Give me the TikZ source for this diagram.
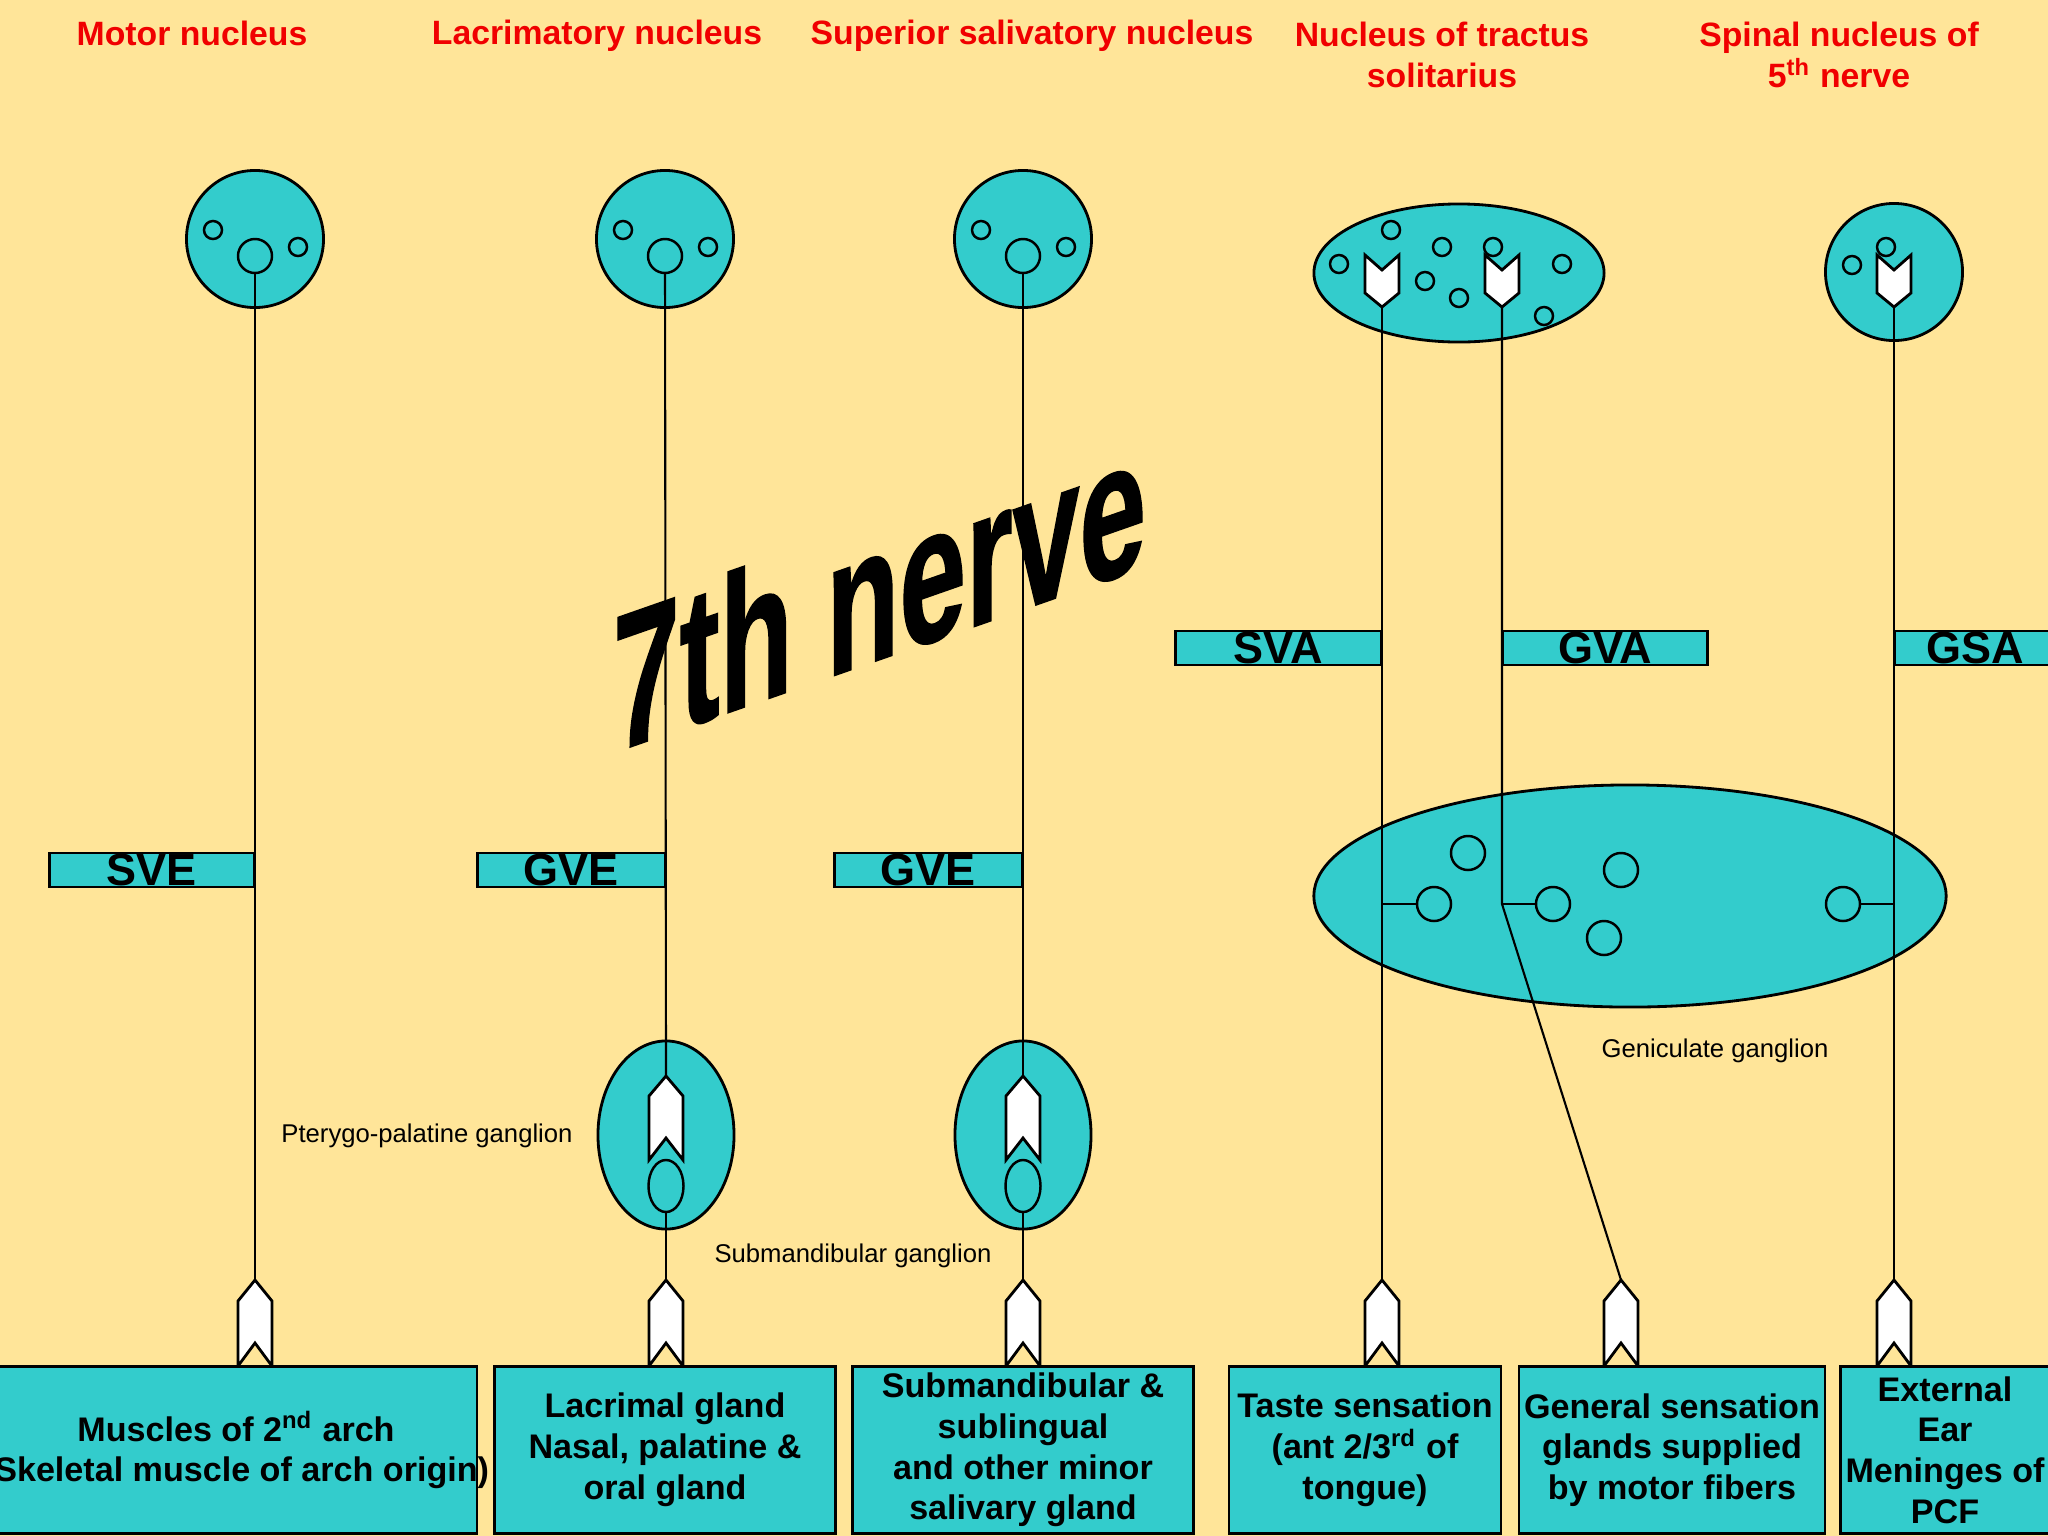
\documentclass[tikz,border=0pt]{standalone}
\usepackage{fontspec}
\setmainfont{Liberation Sans}
\newfontfamily\titlefont[FakeBold=1.2]{Liberation Sans Bold}
\usetikzlibrary{shapes.geometric}
\definecolor{slidebg}{RGB}{255,229,153}
\definecolor{nerveteal}{RGB}{51,204,204}
\definecolor{labelred}{RGB}{240,0,0}

\begin{document}
\begin{tikzpicture}[x=0.01cm, y=-0.01cm, line width=0.6pt,
  nucleus/.style={circle, draw, fill=nerveteal, line width=0.8pt, inner sep=0pt, minimum size=1.37cm},
  cell/.style={circle, draw, inner sep=0pt, minimum size=0.18cm, line width=0.7pt},
  oval/.style={ellipse, draw, fill=nerveteal, line width=0.8pt, inner sep=0pt},
  fibre/.style={draw, fill=white, line width=0.8pt, line join=miter},
  bar/.style={draw, fill=nerveteal, inner sep=0pt, minimum height=0.34cm, line width=0.7pt,
    font=\fontsize{12.8}{14}\selectfont\bfseries},
  target/.style={draw, fill=nerveteal, inner sep=0pt, align=center, minimum height=1.67cm,
    line width=0.7pt, font=\fontsize{9.7}{11.6}\selectfont\bfseries},
  heading/.style={text=labelred, align=center, inner sep=0pt, font=\fontsize{9.6}{11.9}\selectfont\bfseries},
  gname/.style={inner sep=0pt, font=\fontsize{7.3}{9}\selectfont},
  title7/.style={anchor=base west, yslant=0.35, inner sep=0pt, font=\fontsize{55}{60}\selectfont\titlefont}]
  \useasboundingbox (0,0) rectangle (2048,1536);
  \fill[slidebg] (0,0) rectangle (2048,1536);

  % Headings
  \node[heading] (hmotor) at (192,33) {Motor nucleus};
  \node[heading] (hlac) at (597,36) {Lacrimatory nucleus};
  \node[heading] (hsal) at (1032,36) {Superior salivatory nucleus};
  \node[heading] (hnts) at (1442,55) {Nucleus of tractus\\solitarius};
  \node[heading] (hspin) at (1839,55) {Spinal nucleus of\\5\textsuperscript{th} nerve};

  % Motor and parasympathetic nuclei
  \node[nucleus] (n1) at (255,239) {};
  \node[nucleus] (n2) at (665,239) {};
  \node[nucleus] (n3) at (1023,239) {};
  \foreach \x [count=\i] in {255,665,1023} {
    \node[cell] at (\x-42,230) {};
    \node[cell] at (\x+43,247) {};
    \node[cell, minimum size=0.34cm] (n\i c) at (\x,256) {};
  }

  % Sensory nuclei
  \node[oval, minimum width=2.9cm, minimum height=1.38cm] (nts) at (1459,273) {};
  \node[nucleus] (spin) at (1894,272) {};
  \foreach \x/\y in {1391/230,1339/264,1442/247,1425/281,1459/298,1493/247,1562/264,1544/316,1852/265,1886/247}
    \node[cell] at (\x,\y) {};
  \foreach \x/\n in {1382/t4,1502/t5,1894/t7} {
    \coordinate (\n) at (\x,307);
    \draw[fibre] (\x,307) -- ++(17,-14) -- ++(0,-38) -- ++(-17,15) -- ++(-17,-15) -- ++(0,38) -- cycle;
  }

  % Ganglia
  \node[oval, minimum width=1.36cm, minimum height=1.88cm] (ptg) at (666,1135) {};
  \node[oval, minimum width=1.36cm, minimum height=1.88cm] (smg) at (1023,1135) {};
  \node[oval, minimum width=6.32cm, minimum height=2.22cm] (gen) at (1630,896) {};
  \foreach \x/\n in {666/g2,1023/g3} {
    \coordinate (\n) at (\x,1076);
    \draw[fibre] (\x,1076) -- ++(17,20) -- ++(0,64) -- ++(-17,-22) -- ++(-17,22) -- ++(0,-64) -- cycle;
    \node[ellipse, draw, line width=0.7pt, inner sep=0pt, minimum width=0.35cm, minimum height=0.52cm] (\n e) at (\x,1186) {};
  }
  \foreach \x/\y [count=\i] in {1434/904,1468/853,1553/904,1621/870,1604/938,1843/904}
    \node[cell, minimum size=0.34cm] (gc\i) at (\x,\y) {};
  \coordinate (j4) at (1382,904);
  \coordinate (j5) at (1502,904);
  \coordinate (j7) at (1894,904);

  % Endings on targets
  \foreach \x [count=\i] in {255,666,1023,1382,1621,1894} {
    \coordinate (b\i) at (\x,1280);
    \draw[fibre] (\x,1280) -- ++(17,21) -- ++(0,65) -- ++(-17,-23) -- ++(-17,23) -- ++(0,-65) -- cycle;
  }

  % Fibres
  \draw (n1c) -- (b1);
  \draw (n2c) -- (g2);
  \draw (g2e) -- (b2);
  \draw (n3c) -- (g3);
  \draw (g3e) -- (b3);
  \draw (t4) -- (b4);
  \draw (t5) -- (j5) -- (b5);
  \draw (t7) -- (b6);
  \draw (j4) -- (gc1);
  \draw (j5) -- (gc3);
  \draw (j7) -- (gc6);

  % Components
  \node[bar, anchor=east, minimum width=2.04cm] (sve) at (255,870) {SVE};
  \node[bar, anchor=east, minimum width=1.87cm] (gve1) at (666,870) {GVE};
  \node[bar, anchor=east, minimum width=1.87cm] (gve2) at (1023,870) {GVE};
  \node[bar, anchor=east, minimum width=2.05cm] (sva) at (1382,648) {SVA};
  \node[bar, anchor=west, minimum width=2.04cm] (gva) at (1502,648) {GVA};
  \node[bar, anchor=west, minimum width=1.6cm] (gsa) at (1894,648) {GSA};

  % Ganglion names
  \node[gname] (lptg) at (427,1136) {Pterygo-palatine ganglion};
  \node[gname] (lsmg) at (853,1256) {Submandibular ganglion};
  \node[gname] (lgen) at (1715,1051) {Geniculate ganglion};

  % Title
  \node[title7] (title) at (612,753) {\scalebox{0.62}[1]{7th nerve}};

  % Targets
  \node[target, minimum width=4.82cm] (box1) at (236,1450)
    {Muscles of 2\textsuperscript{nd} arch\\\makebox[0pt][c]{(Skeletal muscle of arch origin)}};
  \node[target, minimum width=3.41cm] (box2) at (665,1450) {Lacrimal gland\\Nasal, palatine \&\\oral gland};
  \node[target, minimum width=3.41cm] (box3) at (1023,1450) {Submandibular \&\\sublingual\\and other minor\\salivary gland};
  \node[target, minimum width=2.72cm] (box4) at (1365,1450) {Taste sensation\\(ant 2/3\textsuperscript{rd} of\\tongue)};
  \node[target, minimum width=3.06cm] (box5) at (1672,1450) {General sensation\\glands supplied\\by motor fibers};
  \node[target, minimum width=2.09cm] (box6) at (1945,1450) {External\\Ear\\Meninges of\\PCF};
\end{tikzpicture}
\end{document}
